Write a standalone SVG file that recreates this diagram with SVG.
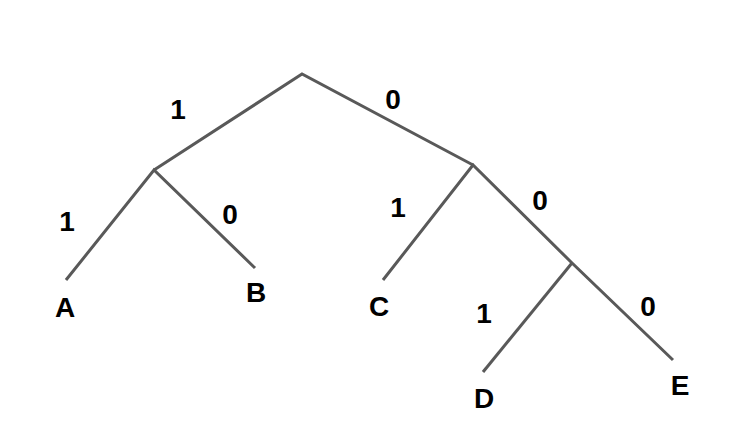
<svg xmlns="http://www.w3.org/2000/svg" width="737" height="438" viewBox="0 0 737 438">
<style>
.e{stroke:#595959;stroke-width:3;fill:none;stroke-linecap:butt}
.t{font-family:"Liberation Sans",Arial,sans-serif;font-weight:bold;font-size:28px;fill:#000;text-anchor:middle}
</style>
<rect width="737" height="438" fill="#fff"/>
<g id="connectors">
<polyline class="e" points="154,170 302,74 473,165"/>
<polyline class="e" points="66,280 154,170 255,268"/>
<polyline class="e" points="383,280 473,165 572,263 673,360"/>
<polyline class="e" points="483,372 572,263"/>
</g>
<g id="edge-labels">
<text class="t" x="178" y="119">1</text>
<text class="t" x="393" y="109">0</text>
<text class="t" x="67" y="231">1</text>
<text class="t" x="230" y="224">0</text>
<text class="t" x="398" y="217">1</text>
<text class="t" x="540" y="210">0</text>
<text class="t" x="484" y="323">1</text>
<text class="t" x="648" y="316">0</text>
</g>
<g id="node-A"><text class="t" x="65" y="317">A</text></g>
<g id="node-B"><text class="t" x="256" y="302">B</text></g>
<g id="node-C"><text class="t" x="379" y="316">C</text></g>
<g id="node-D"><text class="t" x="484" y="408">D</text></g>
<g id="node-E"><text class="t" x="680" y="395">E</text></g>
</svg>
